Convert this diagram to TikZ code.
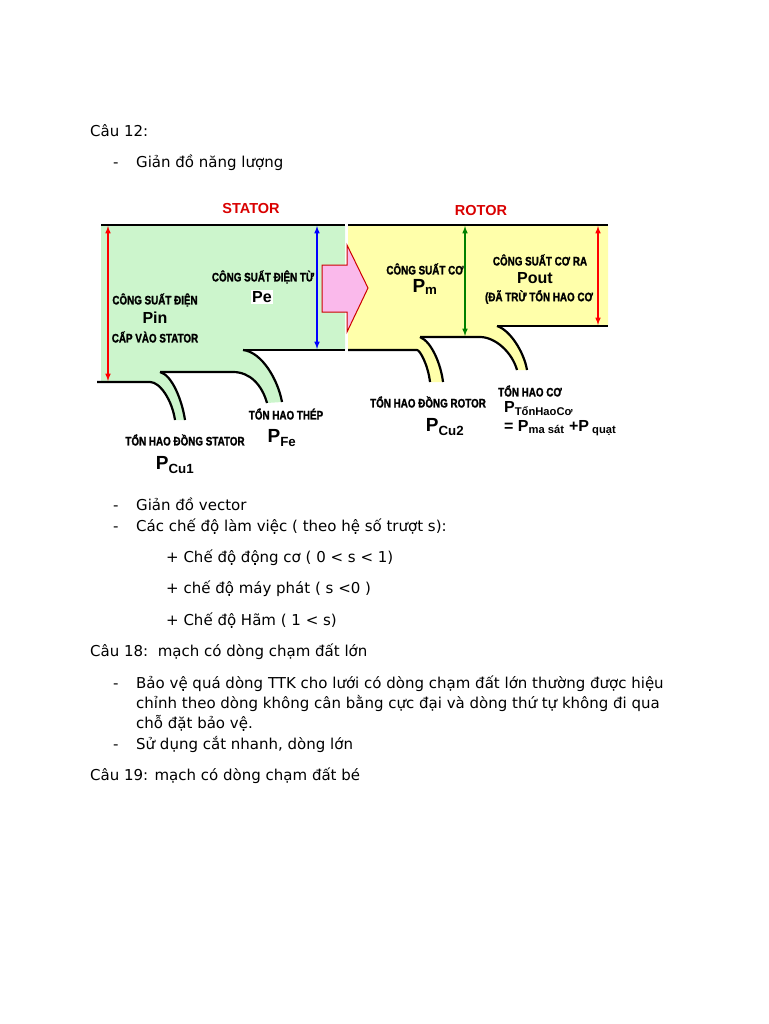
\documentclass[tikz,border=0pt]{standalone}
\usepackage{fontspec}
\setmainfont{DejaVu Sans}
\newfontfamily\lab[FakeStretch=0.8,FakeBold=1.5]{Liberation Sans}
\newfontfamily\labw{Liberation Sans}
\begin{document}
\begin{tikzpicture}[x=1pt,y=-1pt,
  body/.style={anchor=base west,font=\fontsize{15}{17}\selectfont,inner sep=0},
  lbl/.style={font=\lab\bfseries\fontsize{12.3}{13}\selectfont,inner sep=0.5},
  big/.style={font=\labw\bfseries\fontsize{16}{17}\selectfont,inner sep=1},
  edge/.style={line width=2.2pt,black},
  dim/.style={line width=1.5pt,<->,>=latex}]
\useasboundingbox (0,0) rectangle (768,1024);
\definecolor{sgreen}{RGB}{204,245,204}
\definecolor{ryel}{RGB}{255,255,170}
\definecolor{apink}{RGB}{250,185,235}
% stator fill
\fill[sgreen] (101,225) -- (345,225) -- (345,350) -- (243,350)
  .. controls (262,352) and (278,380) .. (282,402) -- (267,403)
  .. controls (262,385) and (250,372) .. (233,372) -- (160,372)
  .. controls (172,375) and (182,400) .. (185,420) -- (175,420)
  .. controls (172,400) and (160,382) .. (150,382) -- (101,382) -- cycle;
% rotor fill
\fill[ryel] (348,225) -- (608,225) -- (608,326) -- (497,326)
  .. controls (510,330) and (524,352) .. (527,370) -- (517,370)
  .. controls (512,352) and (495,337) .. (480,337) -- (420,337)
  .. controls (432,342) and (441,365) .. (443,382) -- (430,382)
  .. controls (428,365) and (420,350) .. (417,350) -- (348,350) -- cycle;
% edges
\draw[edge] (101,225) -- (345,225);
\draw[edge] (348,225) -- (608,225);
\draw[edge] (97,382) -- (150,382) .. controls (160,382) and (172,400) .. (175,420);
\draw[edge] (160,372) .. controls (172,375) and (182,400) .. (185,420);
\draw[edge] (160,372) -- (233,372) .. controls (250,372) and (262,385) .. (267,403);
\draw[edge] (243,350) -- (345,350);
\draw[edge] (243,350) .. controls (262,352) and (278,380) .. (282,402);
\draw[edge] (348,350) -- (417,350) .. controls (420,350) and (428,365) .. (430,382);
\draw[edge] (420,337) -- (480,337) .. controls (495,337) and (512,352) .. (517,370);
\draw[edge] (420,337) .. controls (432,342) and (441,365) .. (443,382);
\draw[edge] (497,326) -- (608,326);
\draw[edge] (497,326) .. controls (510,330) and (524,352) .. (527,370);
% pink arrow
\draw[red!80!black,line width=1pt,fill=apink] (322,265) -- (347,265) -- (347,245) -- (368,288) -- (347,332) -- (347,312) -- (322,312) -- cycle;
% dimension arrows
\coordinate (a1) at (108,226); \coordinate (a2) at (108,381);
\draw[dim,red] (a1) -- (a2);
\coordinate (b1) at (317,226); \coordinate (b2) at (317,349);
\draw[dim,blue] (b1) -- (b2);
\coordinate (c1) at (465,226); \coordinate (c2) at (465,336);
\draw[dim,green!50!black] (c1) -- (c2);
\coordinate (d1) at (598,226); \coordinate (d2) at (598,325);
\draw[dim,red] (d1) -- (d2);
% labels
\node[font=\labw\bfseries\fontsize{14.5}{15}\selectfont,text=red!85!black] (st) at (251,209) {STATOR};
\node[font=\labw\bfseries\fontsize{14.5}{15}\selectfont,text=red!85!black] (ro) at (481,211) {ROTOR};
\node[lbl] (l1) at (155,300) {CÔNG SUẤT ĐIỆN};
\node[big] (l2) at (155,318) {Pin};
\node[lbl] (l3) at (155,337) {CẤP VÀO STATOR};
\node[lbl] (l4) at (263,277) {CÔNG SUẤT ĐIỆN TỪ};
\node[big,fill=white] (l5) at (262,297) {Pe};
\node[lbl] (l6) at (425,269) {CÔNG SUẤT CƠ};
\node[big,font=\labw\bfseries\fontsize{19}{20}\selectfont] (l7) at (425,287) {P\textsubscript{m}};
\node[lbl] (l8) at (540,260) {CÔNG SUẤT CƠ RA};
\node[big] (l9) at (535,278) {Pout};
\node[lbl] (l10) at (539,297) {(ĐÃ TRỪ TỔN HAO CƠ};
\node[lbl] (l11) at (185,440) {TỔN HAO ĐỒNG STATOR};
\node[big,font=\labw\bfseries\fontsize{19}{20}\selectfont] (l12) at (175,465) {P\textsubscript{Cu1}};
\node[lbl] (l13) at (286,414) {TỔN HAO THÉP};
\node[big,font=\labw\bfseries\fontsize{19}{20}\selectfont] (l14) at (282,438) {P\textsubscript{Fe}};
\node[lbl] (l15) at (428,402) {TỔN HAO ĐỒNG ROTOR};
\node[big,font=\labw\bfseries\fontsize{19}{20}\selectfont] (l16) at (445,427) {P\textsubscript{Cu2}};
\node[lbl] (l17) at (530,391) {TỔN HAO CƠ};
\node[big,anchor=west] (l18) at (503,409) {P\textsubscript{TổnHaoCơ}};
\node[big,anchor=west] (l19) at (503,428) {= P\textsubscript{ma sát} +P\textsubscript{ quạt}};
% body text
\node[body] (t1) at (90,137) {Câu 12:};
\node[body] (t2) at (113,168) {-};
\node[body] (t3) at (136,168) {Giản đồ năng lượng};
\node[body] (t4) at (113,510) {-};
\node[body] (t5) at (136,510) {Giản đồ vector};
\node[body] (t6) at (113,531) {-};
\node[body] (t7) at (136,531) {Các chế độ làm việc ( theo hệ số trượt s):};
\node[body] (t8) at (166,562) {+ Chế độ động cơ ( 0 < s < 1)};
\node[body] (t9) at (166,593) {+ chế độ máy phát ( s <0 )};
\node[body] (t10) at (166,625) {+ Chế độ Hãm ( 1 < s)};
\node[body] (t11) at (90,656) {Câu 18:\ \ mạch có dòng chạm đất lớn};
\node[body] (t12) at (113,688) {-};
\node[body] (t13) at (136,688) {Bảo vệ quá dòng TTK cho lưới có dòng chạm đất lớn thường được hiệu};
\node[body] (t14) at (136,708) {chỉnh theo dòng không cân bằng cực đại và dòng thứ tự không đi qua};
\node[body] (t15) at (136,728) {chỗ đặt bảo vệ.};
\node[body] (t16) at (113,749) {-};
\node[body] (t17) at (136,749) {Sử dụng cắt nhanh, dòng lớn};
\node[body] (t18) at (90,780) {Câu 19: mạch có dòng chạm đất bé};
\end{tikzpicture}
\end{document}
